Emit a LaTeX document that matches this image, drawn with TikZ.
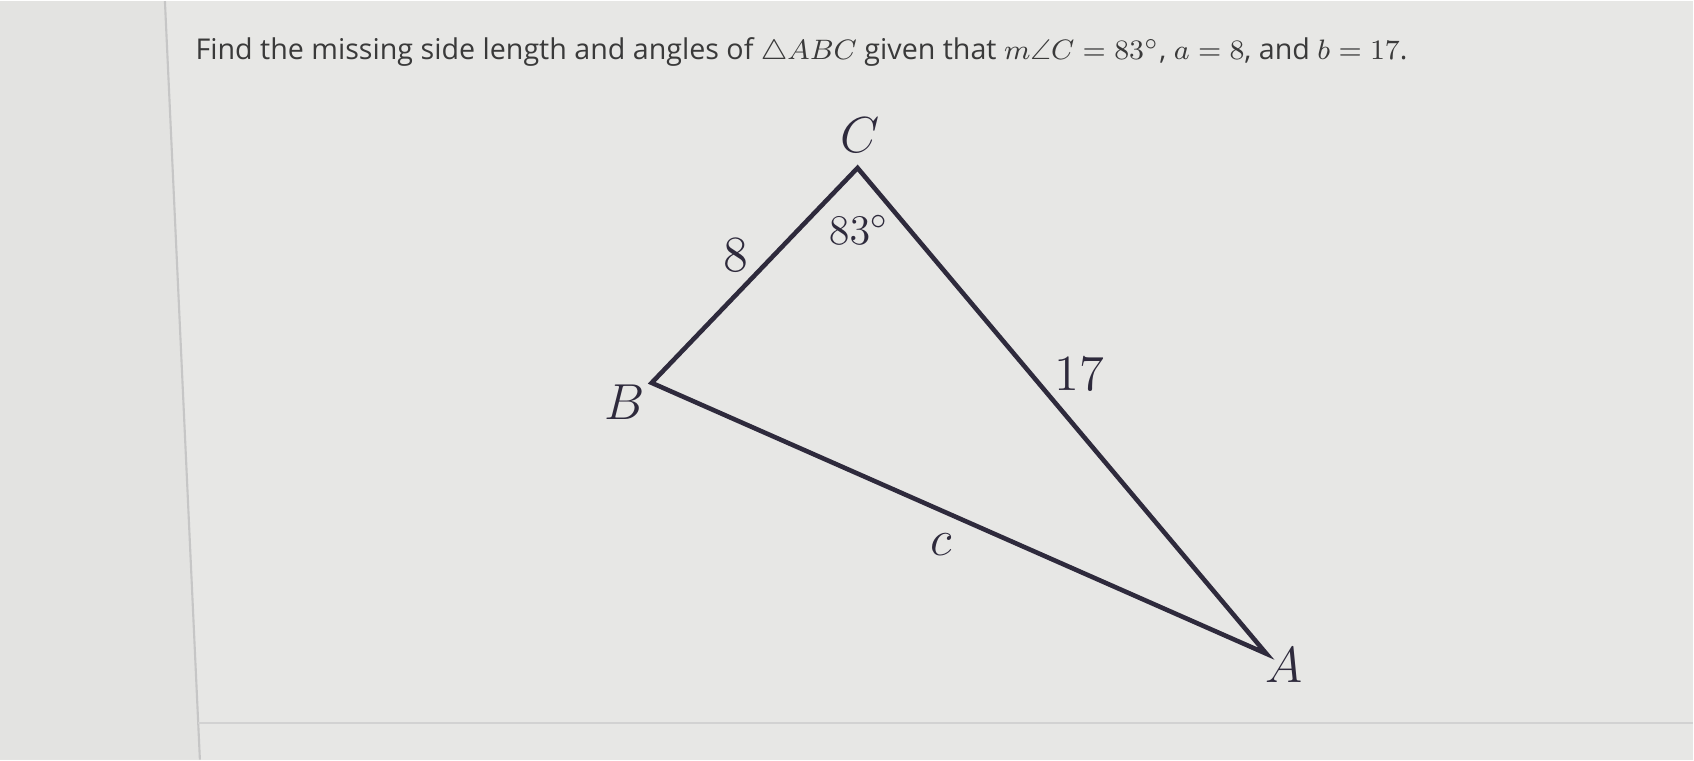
\documentclass[tikz,border=0pt]{standalone}
\usepackage[no-math]{fontspec}
\setmainfont{Open Sans}
\usepackage{amsmath}
\usepackage{amssymb}
\usetikzlibrary{calc}
\definecolor{paper}{HTML}{E7E7E5}
\definecolor{panel}{HTML}{E3E3E1}
\definecolor{ink}{HTML}{2E2A3C}
\definecolor{txt}{HTML}{3A3A3A}

\begin{document}
\begin{tikzpicture}[x=0.01cm,y=-0.01cm,
  vlabel/.style={font=\fontsize{14}{16}\selectfont, text=ink},
  slabel/.style={font=\fontsize{14}{16}\selectfont, text=ink}]
\fill[paper] (0,0) rectangle (1694,759);
\fill[panel] (0,0) -- (165,0) -- (200,759) -- (0,759) -- cycle;
\draw[gray!45, line width=0.6pt] (165,0) -- (200,759);
\draw[gray!35, line width=0.5pt] (198,722) -- (1694,722);
\useasboundingbox (0,0) rectangle (1694,759);
\node[anchor=west, inner sep=0pt, text=txt, font=\fontsize{8.15}{10}\selectfont] (title) at (195,51)
  {Find the missing side length and angles of $\triangle ABC$ given that $m\angle C=83^\circ$, $a=8$, and $b=17$.};
\coordinate (pC) at (858,167);
\coordinate (pB) at (652,382);
\coordinate (pA) at (1267,653);
\draw[ink, line width=1.3pt, line join=miter] (pB) -- (pC) -- (pA) -- cycle;
\node[vlabel] (lC) at (860,134) {$C$};
\node[vlabel] (lB) at (625,401) {$B$};
\node[vlabel] (lA) at (1285,664) {$A$};
\node[slabel, font=\fontsize{13}{15}\selectfont] (ang) at (859,229) {$83^\circ$};
\node[slabel] (sa) at (736,254) {$8$};
\node[slabel] (sb) at (1080,373) {$17$};
\node[slabel] (sc) at (942,544) {$c$};
\end{tikzpicture}
\end{document}
